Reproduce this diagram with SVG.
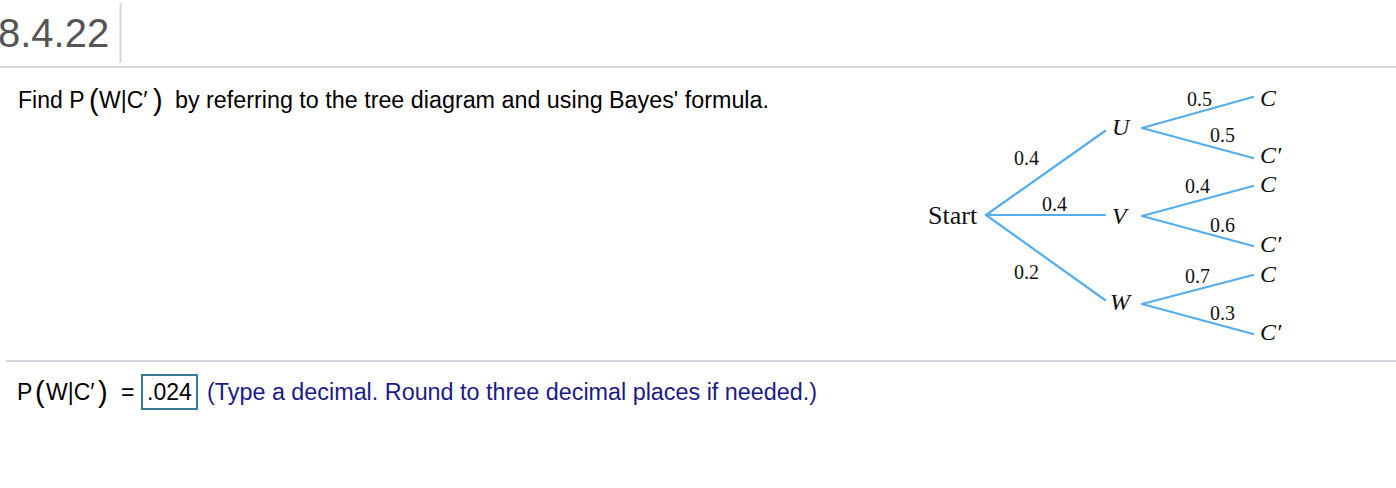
<svg xmlns="http://www.w3.org/2000/svg" width="1396" height="488" viewBox="0 0 1396 488">
<style>
.sans{font-family:"Liberation Sans",Arial,sans-serif;}
.q{font-size:23px;fill:#000;}
.hint{font-size:23px;fill:#1b1b87;}
.par{font-size:29px;fill:#000;}
.ser{font-family:"Liberation Serif","Times New Roman",serif;fill:#111;}
.lab{font-size:20px;}
.node{font-size:24px;font-style:italic;}
.edge{stroke:#55aded;stroke-width:2.2;fill:none;stroke-linecap:round;}
.rule{stroke:#d3d6e0;stroke-width:2;}
</style>
<rect width="1396" height="488" fill="#fff"/>
<g id="header">
<text class="sans" x="-2" y="47" font-size="40" fill="#555">8.4.22</text>
<line x1="120.5" y1="3" x2="120.5" y2="63" stroke="#d3d6e0" stroke-width="2"/>
<line class="rule" x1="0" y1="67" x2="1396" y2="67"/>
<line class="rule" x1="6" y1="361" x2="1396" y2="361"/>
</g>
<g id="question" class="sans">
<text class="q" x="18" y="108">Find P</text>
<text class="par" x="89" y="110">(</text>
<text class="q" x="99" y="108">W|C′</text>
<text class="par" x="153" y="110">)</text>
<text class="q" x="175" y="108" textLength="594" lengthAdjust="spacingAndGlyphs">by referring to the tree diagram and using Bayes' formula.</text>
</g>
<g id="connectors">
<line class="edge" x1="986" y1="215" x2="1105" y2="131"/>
<line class="edge" x1="986" y1="215" x2="1105" y2="215"/>
<line class="edge" x1="986" y1="215" x2="1105" y2="300"/>
<line class="edge" x1="1142" y1="128" x2="1253" y2="97"/>
<line class="edge" x1="1142" y1="128" x2="1253" y2="158"/>
<line class="edge" x1="1142" y1="216" x2="1253" y2="186"/>
<line class="edge" x1="1142" y1="216" x2="1253" y2="246"/>
<line class="edge" x1="1142" y1="304" x2="1253" y2="275"/>
<line class="edge" x1="1142" y1="304" x2="1253" y2="334"/>
</g>
<g id="edge-labels" class="ser lab">
<text x="1014" y="165">0.4</text>
<text x="1042" y="211">0.4</text>
<text x="1014" y="279">0.2</text>
<text x="1187" y="106">0.5</text>
<text x="1210" y="142">0.5</text>
<text x="1185" y="193">0.4</text>
<text x="1210" y="232">0.6</text>
<text x="1185" y="283">0.7</text>
<text x="1210" y="320">0.3</text>
</g>
<g id="node-start"><text class="ser" x="928" y="224" font-size="26">Start</text></g>
<g id="node-U"><text class="ser node" x="1112" y="135">U</text></g>
<g id="node-V"><text class="ser node" x="1112" y="224">V</text></g>
<g id="node-W"><text class="ser node" x="1110" y="310">W</text></g>
<g id="node-UC"><text class="ser node" x="1260" y="106">C</text></g>
<g id="node-UC2"><text class="ser node" x="1260" y="163">C′</text></g>
<g id="node-VC"><text class="ser node" x="1260" y="192">C</text></g>
<g id="node-VC2"><text class="ser node" x="1260" y="252">C′</text></g>
<g id="node-WC"><text class="ser node" x="1260" y="282">C</text></g>
<g id="node-WC2"><text class="ser node" x="1260" y="340">C′</text></g>
<g id="answer" class="sans">
<text class="q" x="17" y="400">P</text>
<text class="par" x="35" y="402">(</text>
<text class="q" x="46" y="400">W|C′</text>
<text class="par" x="98" y="402">)</text>
<text class="q" x="121" y="400">=</text>
<rect x="142" y="375" width="55" height="34" fill="#fff" stroke="#3b7b97" stroke-width="2"/>
<text class="q" x="147" y="400">.024</text>
<text class="hint" x="207" y="400" textLength="610" lengthAdjust="spacingAndGlyphs">(Type a decimal. Round to three decimal places if needed.)</text>
</g>
</svg>
